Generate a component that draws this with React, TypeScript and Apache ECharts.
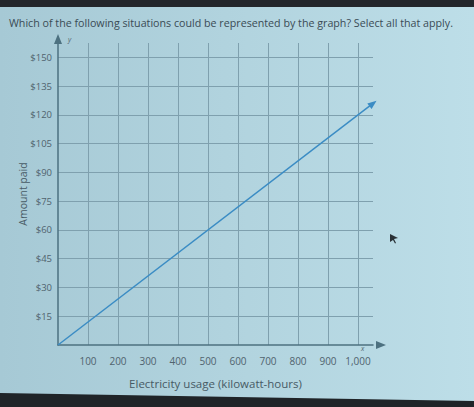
import React, { useEffect, useRef } from "react";
import * as echarts from "echarts";

const titleText =
  "Which of the following situations could be represented by the graph? Select all that apply.";
const xName = "Electricity usage (kilowatt-hours)";
const yName = "Amount paid";

// usage (kWh) -> amount paid ($)
const usage = [0, 1050];
const paid = [0, 126];

const xMax = 1050;
const xStep = 100;
const yMax = 157.5;
const yStep = 15;

function App() {
  const chartRef = useRef<HTMLDivElement>(null);

  useEffect(() => {
    document.body.style.margin = "0";
    if (!chartRef.current) return undefined;
    const chart = echarts.init(chartRef.current, undefined, { renderer: "svg" });

    const font = "'Open Sans', 'DejaVu Sans', sans-serif";
    const options: any = {
      animation: false,
      backgroundColor: {
        type: "linear",
        x: 0,
        y: 0,
        x2: 1,
        y2: 0,
        colorStops: [
          { offset: 0, color: "#a6c9d5" },
          { offset: 1, color: "#bddee8" },
        ],
      },
      title: {
        text: titleText,
        left: 4,
        top: 12,
        textStyle: {
          fontFamily: font,
          fontSize: 10.7,
          fontWeight: "normal",
          color: "#3a4b55",
        },
      },
      grid: {
        left: 58,
        top: 43,
        right: 101,
        bottom: 62,
      },
      xAxis: {
        type: "value",
        min: 0,
        max: xMax,
        interval: xStep,
        name: xName,
        nameLocation: "middle",
        nameGap: 32,
        nameTextStyle: { fontFamily: font, fontSize: 11.5, color: "#475a65" },
        axisLine: {
          lineStyle: { color: "#4d7180", width: 1.5 },
          symbol: ["none", "triangle"],
          symbolSize: [8, 10],
          symbolOffset: [0, 8],
        },
        axisTick: { show: false },
        axisLabel: {
          fontFamily: font,
          fontSize: 10,
          color: "#50636e",
          margin: 11,
          formatter: (v: number) =>
            v === 0 || v % xStep !== 0 ? "" : v.toLocaleString("en-US"),
        },
        splitLine: {
          show: true,
          showMinLine: false,
          showMaxLine: false,
          lineStyle: { color: "#7fa0ae", width: 1 },
        },
      },
      yAxis: {
        type: "value",
        min: 0,
        max: yMax,
        interval: yStep,
        name: yName,
        nameLocation: "middle",
        nameGap: 30,
        nameMoveOverlap: false,
        nameRotate: 90,
        nameTextStyle: { fontFamily: font, fontSize: 10.5, color: "#475a65" },
        axisLine: {
          show: true,
          lineStyle: { color: "#4d7180", width: 1.5 },
          symbol: ["none", "triangle"],
          symbolSize: [8, 10],
          symbolOffset: [0, 4],
        },
        axisTick: { show: false },
        axisLabel: {
          fontFamily: font,
          fontSize: 9.5,
          color: "#50636e",
          margin: 6,
          formatter: (v: number) =>
            v === 0 || v % yStep !== 0 ? "" : "$" + v,
        },
        splitLine: {
          show: true,
          showMinLine: false,
          showMaxLine: false,
          lineStyle: { color: "#7fa0ae", width: 1 },
        },
      },
      graphic: [
        {
          type: "rect",
          shape: { x: 0, y: 0, width: 474, height: 7 },
          style: { fill: "#23262b" },
          z: 100,
        },
        {
          type: "polygon",
          shape: {
            points: [
              [0, 393],
              [474, 401],
              [474, 407],
              [0, 407],
            ],
          },
          style: { fill: "#1f2428" },
          z: 100,
        },
        {
          type: "polygon",
          shape: {
            points: [
              [390, 234],
              [398, 238],
              [394, 239],
              [396, 243],
              [395, 243.5],
              [393, 240],
              [390, 242],
            ],
          },
          style: { fill: "#2a3136" },
          z: 100,
        },
        {
          type: "text",
          left: 68,
          top: 36,
          style: {
            text: "y",
            fontFamily: font,
            fontStyle: "italic",
            fontSize: 7,
            fill: "#566872",
          },
        },
        {
          type: "text",
          left: 361,
          top: 345,
          style: {
            text: "x",
            fontFamily: font,
            fontStyle: "italic",
            fontSize: 7,
            fill: "#566872",
          },
        },
      ],
      series: [
        {
          type: "line",
          data: usage.map((u, i) => [u, paid[i]]),
          symbol: (_v: any, params: any) =>
            params.dataIndex === usage.length - 1 ? "triangle" : "none",
          symbolSize: [7, 9],
          symbolRotate: -52,
          showSymbol: true,
          itemStyle: { color: "#3b8cc4" },
          lineStyle: { color: "#3b8cc4", width: 1.5 },
          z: 5,
        },
      ],
    };
    chart.setOption(options);
    return () => {
      chart.dispose();
    };
  }, []);

  return <div ref={chartRef} style={{ width: "474px", height: "407px" }} />;
}

export default App;
